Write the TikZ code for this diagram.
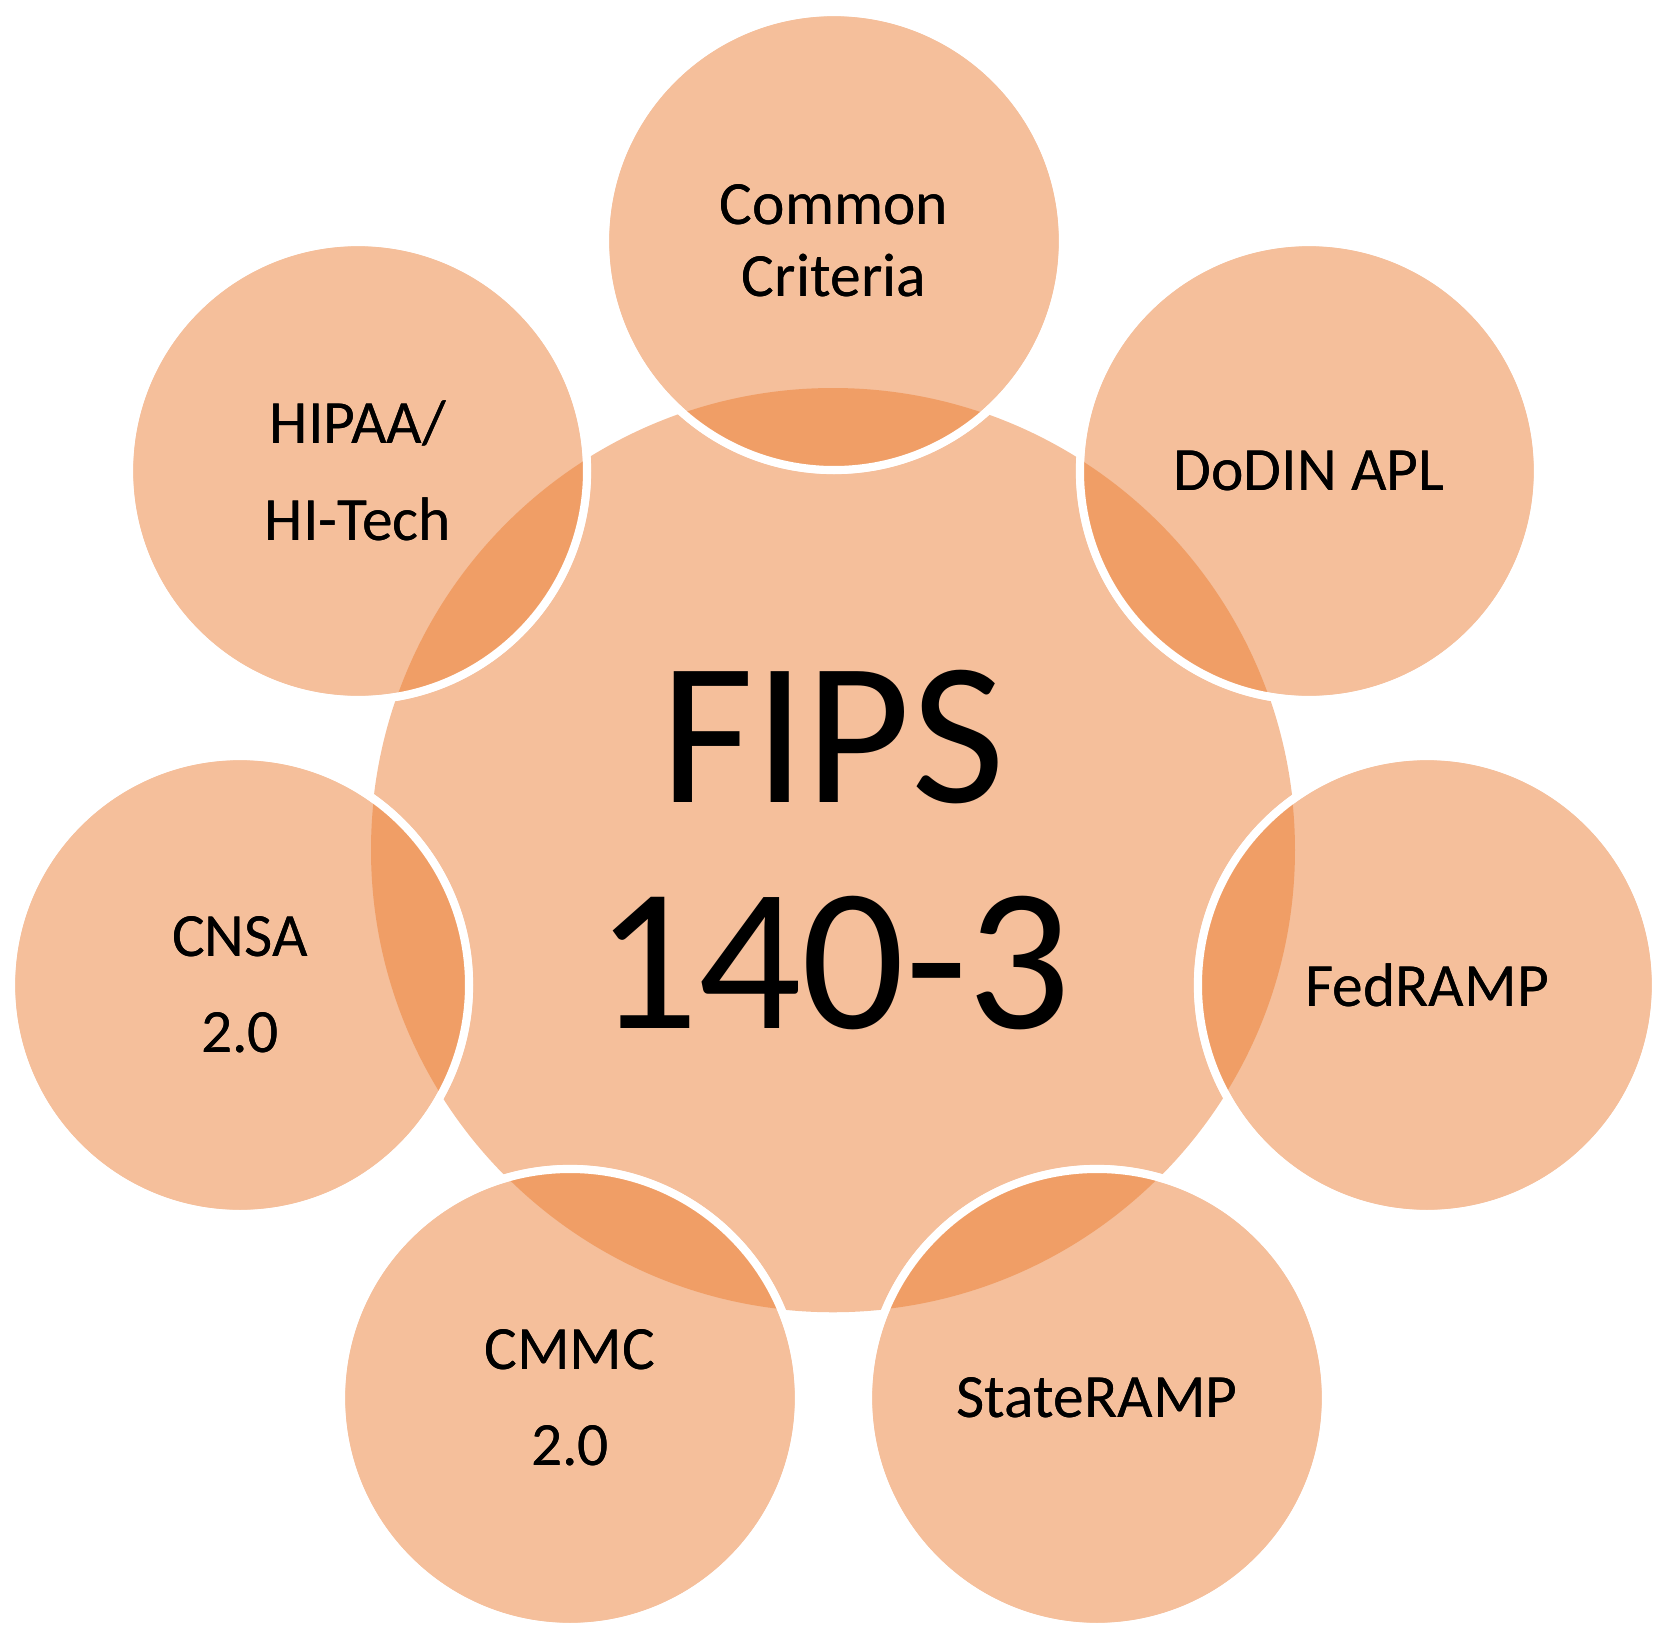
\documentclass[tikz,border=0pt]{standalone}
\usepackage{fontspec}
\setmainfont{Carlito}
\definecolor{peach}{HTML}{F5BF9B}
\definecolor{peachdark}{HTML}{F09E66}
\begin{document}
\begin{tikzpicture}[x=0.01cm,y=-0.01cm,
	hub/.style={circle,fill=peach,minimum size=9.24cm,inner sep=0pt},
	sat/.style={circle,fill=peach,draw=white,line width=0.08cm,minimum size=4.58cm,inner sep=0pt,align=center,font=\fontsize{17.5}{24}\selectfont}]
	\useasboundingbox (0,0) rectangle (1668,1636);

	\node[hub] (fips) at (833,850) {};

	% satellites round the hub
	\foreach \n/\x/\y/\t in {cc/834/241/{Common\\[-0.12cm]Criteria},
			dodin/1309/471/{DoDIN APL},
			fedramp/1427/985/{FedRAMP},
			stateramp/1097/1398/{StateRAMP},
			cmmc/570/1398/{CMMC\\[0.12cm]2.0},
			cnsa/240/985/{CNSA\\[0.12cm]2.0},
			hipaa/358/471/{HIPAA/\\[0.12cm]HI-Tech}}
	{
		\node[sat] (\n) at (\x,\y) {\t};
		\begin{scope}
			\clip (\x,\y) circle (229);
			\fill[peachdark] (fips.center) circle (462);
		\end{scope}
		\draw[white,line width=0.08cm] (\x,\y) circle (229);
		\node[align=center,font=\fontsize{17.5}{24}\selectfont] at (\x,\y) {\t};
	}

	\node[align=center,font=\fontsize{58}{64}\selectfont] at (fips.center) {FIPS\\140-3};
\end{tikzpicture}
\end{document}
